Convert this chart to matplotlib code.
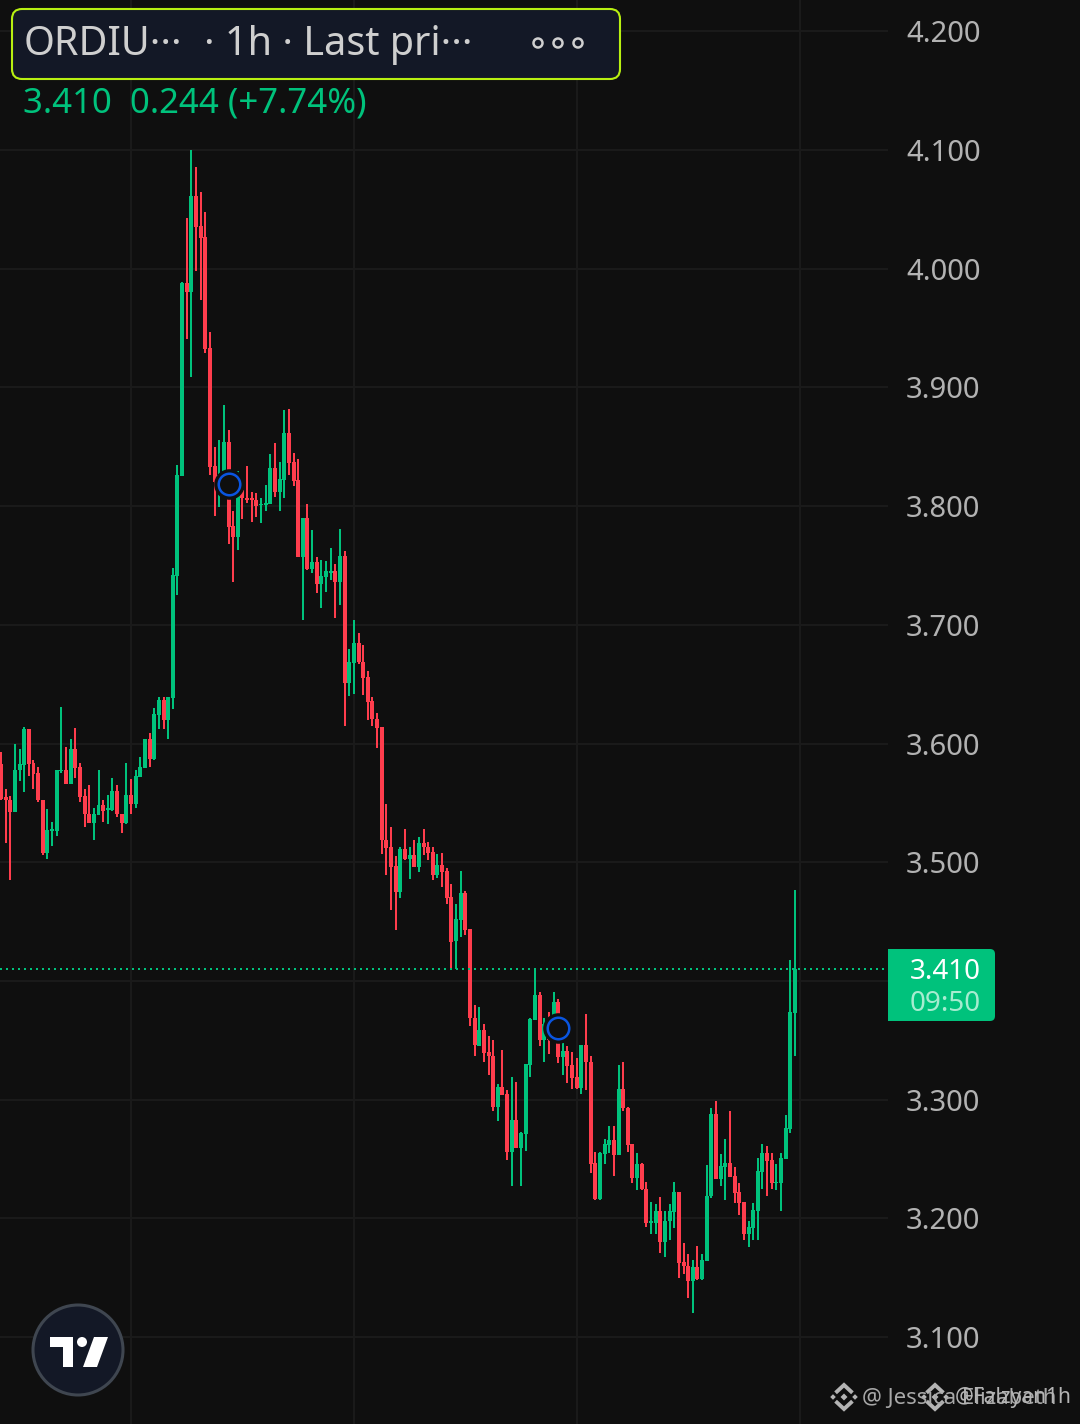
import matplotlib
matplotlib.use('Agg')
import matplotlib.pyplot as plt
from matplotlib.patches import Circle, FancyBboxPatch, Polygon, Rectangle

BG = '#0f0f0f'
GRID = '#1a1a1a'
GREEN = '#00c27c'
RED = '#ff3d4d'
LABEL = '#b2b2b2'
FONT = ['Noto Sans', 'DejaVu Sans']

plt.rcParams['font.family'] = FONT

# ORDIUSDT 1h candles
opens = [
    3.583, 3.555, 3.552, 3.542, 3.578, 3.582, 3.612, 3.584, 3.575, 3.552,
    3.508, 3.526, 3.526, 3.577, 3.578, 3.566, 3.595, 3.580, 3.556, 3.541,
    3.533, 3.540, 3.548, 3.544, 3.544, 3.560, 3.541, 3.533, 3.557, 3.549,
    3.572, 3.579, 3.604, 3.587, 3.624, 3.637, 3.620, 3.638, 3.741, 3.825,
    3.988, 3.980, 4.061, 4.036, 4.027, 3.933, 3.834, 3.820, 3.827, 3.854,
    3.783, 3.774, 3.814, 3.807, 3.807, 3.805, 3.801, 3.801, 3.802, 3.832,
    3.812, 3.822, 3.862, 3.837, 3.822, 3.757, 3.790, 3.747, 3.753, 3.734,
    3.740, 3.744, 3.745, 3.736, 3.758, 3.651, 3.668, 3.685, 3.669, 3.656,
    3.636, 3.621, 3.614, 3.519, 3.513, 3.497, 3.475, 3.511, 3.503, 3.506,
    3.496, 3.516, 3.513, 3.509, 3.489, 3.498, 3.493, 3.471, 3.434, 3.451,
    3.474, 3.444, 3.369, 3.345, 3.359, 3.340, 3.337, 3.294, 3.311, 3.305,
    3.256, 3.283, 3.259, 3.271, 3.329, 3.367, 3.388, 3.350, 3.364, 3.368,
    3.382, 3.336, 3.341, 3.329, 3.319, 3.310, 3.346, 3.332, 3.247, 3.216,
    3.254, 3.262, 3.266, 3.253, 3.309, 3.293, 3.263, 3.234, 3.246, 3.225,
    3.196, 3.196, 3.206, 3.180, 3.198, 3.205, 3.222, 3.163, 3.160, 3.147,
    3.159, 3.149, 3.164, 3.219, 3.288, 3.233, 3.243, 3.247, 3.236, 3.222,
    3.214, 3.187, 3.192, 3.206, 3.239, 3.255, 3.249, 3.230, 3.230, 3.250,
    3.275, 3.373,
]
highs = [
    3.593, 3.562, 3.556, 3.600, 3.595, 3.614, 3.612, 3.586, 3.580, 3.552,
    3.545, 3.534, 3.578, 3.631, 3.597, 3.604, 3.613, 3.584, 3.562, 3.565,
    3.546, 3.578, 3.552, 3.557, 3.571, 3.565, 3.541, 3.584, 3.570, 3.578,
    3.589, 3.604, 3.609, 3.630, 3.639, 3.639, 3.639, 3.7475, 3.835, 3.989,
    4.043, 4.100, 4.086, 4.065, 4.048, 3.947, 3.850, 3.856, 3.885, 3.864,
    3.796, 3.830, 3.822, 3.834, 3.812, 3.811, 3.807, 3.818, 3.844, 3.853,
    3.837, 3.881, 3.882, 3.845, 3.840, 3.790, 3.802, 3.780, 3.757, 3.755,
    3.754, 3.765, 3.751, 3.781, 3.762, 3.680, 3.704, 3.693, 3.683, 3.661,
    3.639, 3.626, 3.614, 3.549, 3.530, 3.505, 3.513, 3.528, 3.513, 3.519,
    3.521, 3.528, 3.517, 3.513, 3.507, 3.508, 3.495, 3.482, 3.465, 3.493,
    3.476, 3.444, 3.380, 3.378, 3.364, 3.354, 3.350, 3.313, 3.342, 3.308,
    3.319, 3.315, 3.273, 3.330, 3.369, 3.411, 3.391, 3.369, 3.374, 3.391,
    3.385, 3.348, 3.345, 3.340, 3.335, 3.346, 3.372, 3.337, 3.256, 3.256,
    3.267, 3.278, 3.278, 3.329, 3.332, 3.294, 3.263, 3.255, 3.247, 3.231,
    3.214, 3.212, 3.218, 3.206, 3.212, 3.231, 3.222, 3.179, 3.170, 3.165,
    3.177, 3.170, 3.245, 3.293, 3.299, 3.254, 3.267, 3.290, 3.243, 3.230,
    3.214, 3.198, 3.213, 3.251, 3.263, 3.261, 3.255, 3.246, 3.255, 3.287,
    3.418, 3.477,
]
lows = [
    3.552, 3.516, 3.485, 3.542, 3.568, 3.559, 3.573, 3.562, 3.551, 3.506,
    3.503, 3.514, 3.522, 3.575, 3.566, 3.566, 3.571, 3.551, 3.530, 3.533,
    3.519, 3.540, 3.534, 3.532, 3.543, 3.538, 3.525, 3.532, 3.541, 3.546,
    3.572, 3.579, 3.580, 3.586, 3.612, 3.612, 3.604, 3.629, 3.725, 3.825,
    3.941, 3.909, 3.998, 3.974, 3.929, 3.826, 3.792, 3.799, 3.826, 3.768,
    3.736, 3.763, 3.789, 3.803, 3.787, 3.791, 3.786, 3.796, 3.802, 3.808,
    3.796, 3.807, 3.826, 3.817, 3.757, 3.704, 3.746, 3.744, 3.727, 3.714,
    3.728, 3.738, 3.706, 3.717, 3.615, 3.640, 3.642, 3.667, 3.641, 3.620,
    3.615, 3.596, 3.507, 3.489, 3.460, 3.443, 3.470, 3.502, 3.486, 3.496,
    3.492, 3.506, 3.502, 3.485, 3.487, 3.479, 3.465, 3.410, 3.410, 3.437,
    3.439, 3.362, 3.337, 3.345, 3.332, 3.321, 3.290, 3.282, 3.304, 3.249,
    3.227, 3.259, 3.227, 3.257, 3.319, 3.367, 3.345, 3.332, 3.338, 3.367,
    3.331, 3.321, 3.314, 3.309, 3.309, 3.305, 3.308, 3.238, 3.215, 3.215,
    3.246, 3.255, 3.236, 3.253, 3.290, 3.256, 3.230, 3.224, 3.224, 3.193,
    3.187, 3.187, 3.171, 3.167, 3.182, 3.192, 3.150, 3.153, 3.133, 3.120,
    3.148, 3.148, 3.164, 3.217, 3.233, 3.227, 3.215, 3.235, 3.213, 3.203,
    3.182, 3.176, 3.182, 3.182, 3.225, 3.219, 3.225, 3.224, 3.206, 3.250,
    3.272, 3.337,
]
closes = [
    3.553, 3.552, 3.542, 3.578, 3.583, 3.612, 3.583, 3.574, 3.552, 3.508,
    3.527, 3.528, 3.578, 3.578, 3.566, 3.595, 3.579, 3.555, 3.541, 3.533,
    3.541, 3.548, 3.543, 3.546, 3.560, 3.541, 3.533, 3.557, 3.549, 3.573,
    3.580, 3.604, 3.587, 3.625, 3.637, 3.620, 3.639, 3.742, 3.826, 3.988,
    3.980, 4.061, 4.035, 4.026, 3.932, 3.833, 3.820, 3.826, 3.854, 3.782,
    3.774, 3.813, 3.807, 3.805, 3.805, 3.800, 3.802, 3.803, 3.832, 3.812,
    3.823, 3.862, 3.836, 3.821, 3.757, 3.790, 3.747, 3.753, 3.734, 3.741,
    3.745, 3.745, 3.736, 3.758, 3.651, 3.669, 3.685, 3.669, 3.655, 3.635,
    3.621, 3.613, 3.519, 3.512, 3.496, 3.475, 3.511, 3.503, 3.506, 3.496,
    3.516, 3.513, 3.508, 3.489, 3.498, 3.492, 3.470, 3.433, 3.452, 3.474,
    3.443, 3.369, 3.346, 3.359, 3.339, 3.337, 3.294, 3.311, 3.304, 3.256,
    3.283, 3.259, 3.272, 3.330, 3.368, 3.388, 3.350, 3.364, 3.350, 3.382,
    3.336, 3.341, 3.328, 3.318, 3.310, 3.346, 3.332, 3.246, 3.216, 3.255,
    3.263, 3.266, 3.253, 3.309, 3.293, 3.262, 3.234, 3.246, 3.225, 3.196,
    3.198, 3.206, 3.180, 3.198, 3.206, 3.222, 3.162, 3.160, 3.147, 3.159,
    3.149, 3.165, 3.219, 3.288, 3.233, 3.244, 3.247, 3.235, 3.221, 3.213,
    3.187, 3.193, 3.207, 3.240, 3.255, 3.248, 3.230, 3.231, 3.251, 3.276,
    3.374, 3.410,
]
price_ticks = [3.1, 3.2, 3.3, 3.4, 3.5, 3.6, 3.7, 3.8, 3.9, 4.0, 4.1, 4.2]
day_ticks = [28, 76, 124, 172]
last_price = 3.410
marks_x = [49, 120]
marks_y = [3.819, 3.360]


def draw_logo(ui):
    ui.add_patch(Circle((78, 1350), 45, fc='#131826', ec='#3f4650', lw=2.2))
    ui.add_patch(Polygon([(50, 1337), (73, 1337), (73, 1367), (63, 1367), (63, 1347), (50, 1347)],
                         fc='white', ec='none'))
    ui.add_patch(Circle((82, 1342), 5, fc='white', ec='none'))
    ui.add_patch(Polygon([(94, 1337), (108, 1337), (97, 1367), (83, 1367)], fc='white', ec='none'))


def draw_binance(ui, cx, cy):
    col = '#b4b4b4'
    for dx, dy, s in [(0, 0, 3.5), (-11, 0, 2.8), (11, 0, 2.8)]:
        ui.add_patch(Polygon([(cx + dx - s, cy + dy), (cx + dx, cy + dy - s),
                              (cx + dx + s, cy + dy), (cx + dx, cy + dy + s)], fc=col, ec='none'))
    for sign in (-1, 1):
        ui.plot([cx - 7, cx, cx + 7], [cy + sign * 5.5, cy + sign * 12, cy + sign * 5.5],
                color=col, lw=2.8, solid_joinstyle='miter')


def main():
    fig = plt.figure(figsize=(10.8, 14.24), dpi=100, facecolor=BG)
    ax = fig.add_axes([0, 0, 888 / 1080, 1], facecolor=BG)

    x = list(range(len(opens)))
    colors = [GREEN if c >= o else RED for o, c in zip(opens, closes)]
    bottoms = [min(o, c) for o, c in zip(opens, closes)]
    heights = [abs(c - o) for o, c in zip(opens, closes)]

    ax.vlines(x, lows, highs, colors=colors, linewidth=1.44, zorder=3)
    ax.bar(x, heights, width=0.86, bottom=bottoms, color=colors, linewidth=0, zorder=4)

    # last price line and the two event marks
    ax.axhline(last_price, xmax=886 / 888, color=GREEN, lw=1.44, linestyle=(0, (1, 2)), zorder=5)
    ax.plot(marks_x, marks_y, 'o', ms=21, mfc=BG, mec=BG, zorder=6)
    ax.plot(marks_x, marks_y, 'o', ms=15.5, mfc=BG, mec='#0a55e0', mew=1.8, zorder=7)

    ax.set_xlim(-0.215, 191.04)
    ax.set_ylim(3.0267, 4.2264)
    ax.set_xticks(day_ticks)
    ax.set_yticks(price_ticks)
    ax.set_yticklabels([f'{p:.3f}' for p in price_ticks])
    ax.yaxis.tick_right()
    ax.tick_params(axis='both', length=0, labelbottom=False)
    ax.tick_params(axis='y', pad=13, labelsize=21, labelcolor=LABEL)
    ax.grid(True, color=GRID, lw=1.44, zorder=0)
    ax.set_axisbelow(True)
    for s in ax.spines.values():
        s.set_visible(False)

    # overlay in screen pixels for the app furniture
    ui = fig.add_axes([0, 0, 1, 1], facecolor='none')
    ui.set_xlim(0, 1080)
    ui.set_ylim(1424, 0)
    ui.axis('off')

    ui.add_patch(FancyBboxPatch((12, 9), 608, 70, boxstyle='round,pad=0,rounding_size=10',
                                fc='#131826', ec='#b8f011', lw=1.5))
    ui.text(24, 45, 'ORDIU···', color='#cfcfcf', fontsize=28.5, va='center', family=FONT)
    ui.text(204, 45, '· 1h · Last pri···', color='#cfcfcf', fontsize=28.5, va='center', family=FONT)
    for cx in (538, 558, 578):
        ui.add_patch(Circle((cx, 43), 4.5, fc='none', ec='#cfcfcf', lw=1.8))
    ui.text(23, 104, '3.410  0.244 (+7.74%)', color=GREEN, fontsize=25, va='center')

    ui.add_patch(FancyBboxPatch((888, 949), 107, 72, boxstyle='round,pad=0,rounding_size=5',
                                fc=GREEN, ec='none'))
    ui.add_patch(Rectangle((888, 949), 20, 72, fc=GREEN, ec='none'))
    ui.text(945, 972, '3.410', color='white', fontsize=20, ha='center', va='center')
    ui.text(945, 1004, '09:50', color='#a6ecd0', fontsize=20, ha='center', va='center')

    draw_logo(ui)
    draw_binance(ui, 844, 1397)
    draw_binance(ui, 935, 1397)
    ui.text(862, 1398, '@ Jessica Elizabeth', color='#a8a8a8', fontsize=16, va='center')
    ui.text(955, 1398, '@Falzyan1h', color='#b4b4b4', fontsize=15, va='center')

    fig.savefig('out.png', dpi=100, facecolor=BG)


if __name__ == '__main__':
    main()
